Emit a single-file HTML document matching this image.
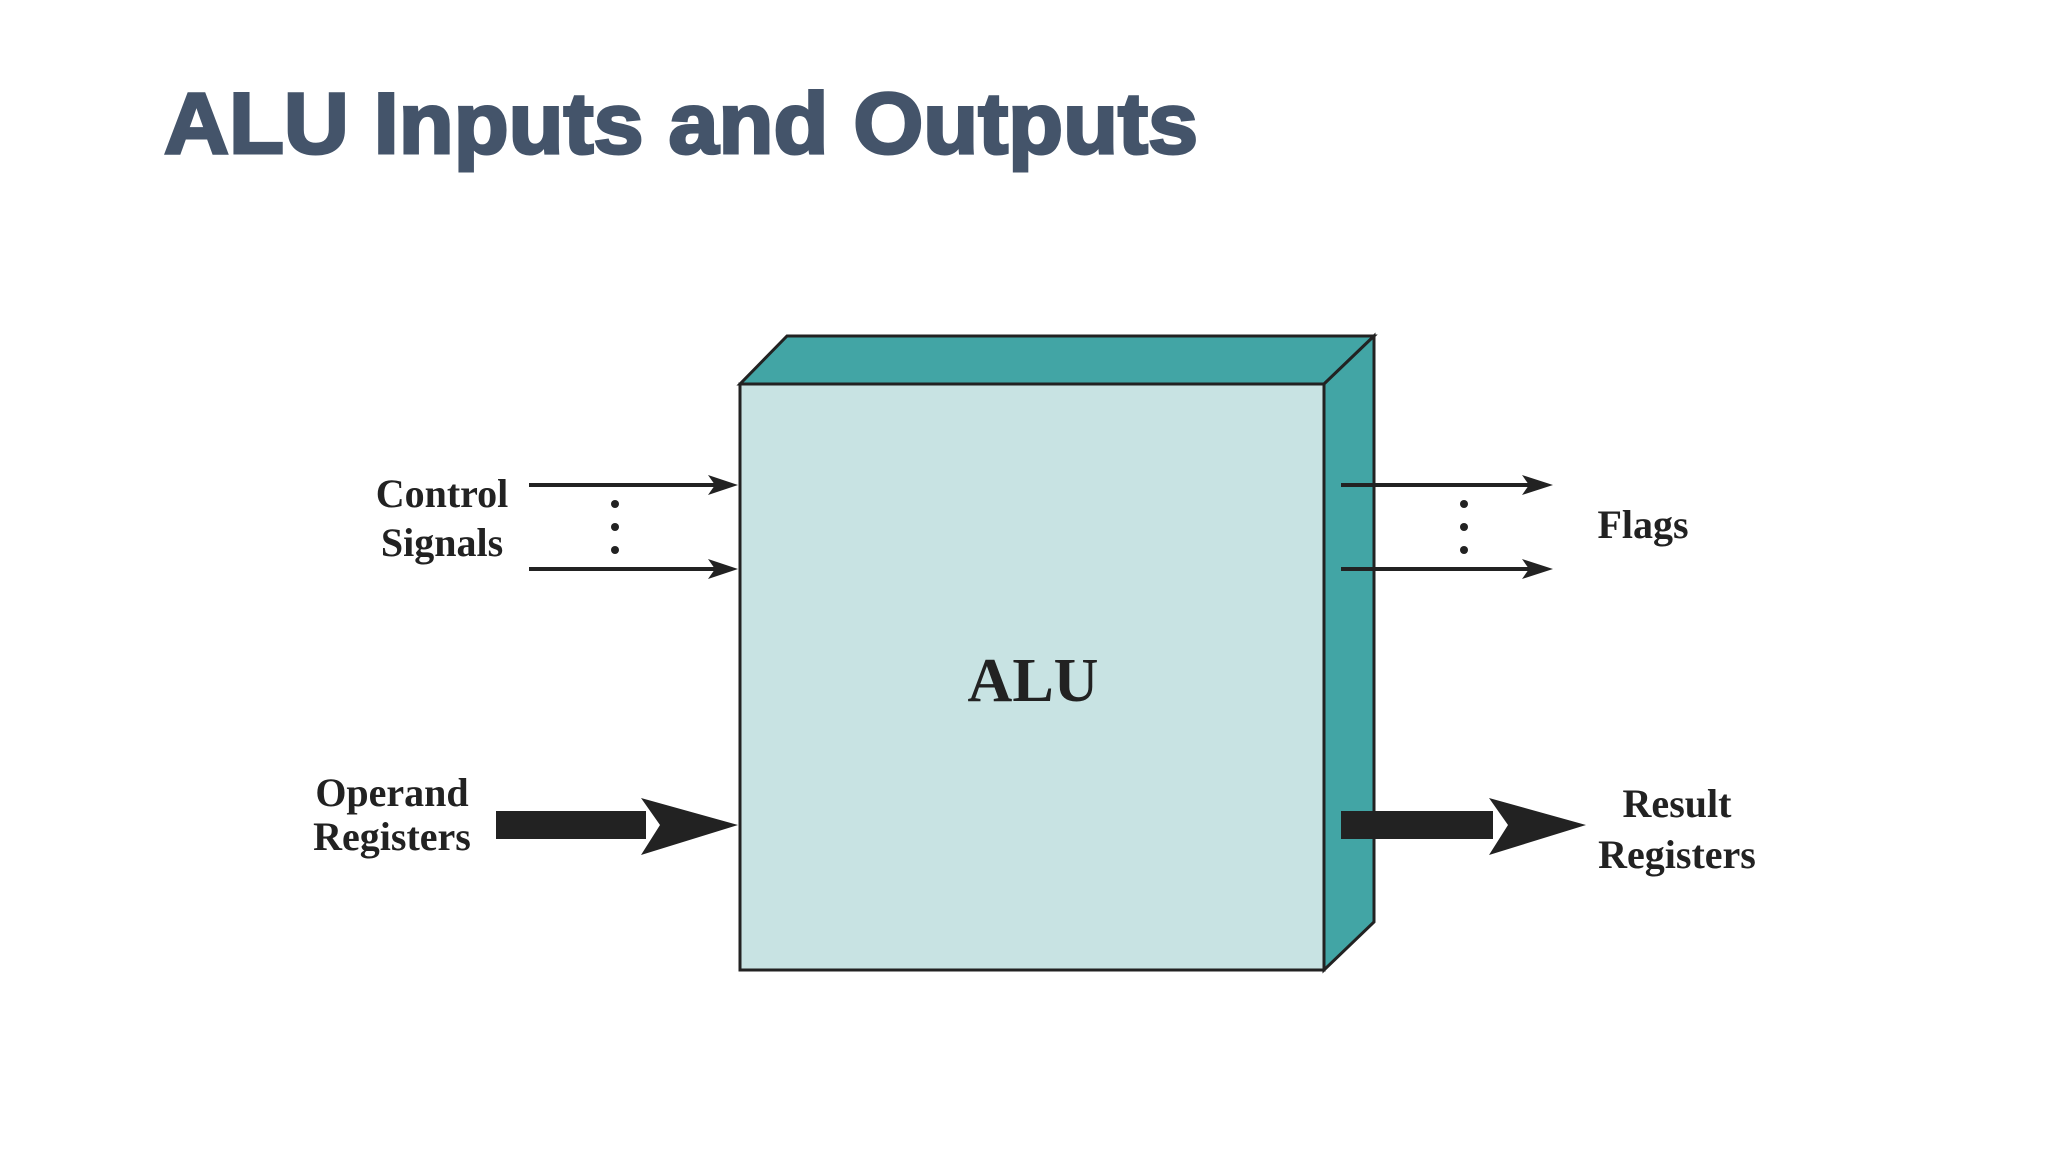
<!DOCTYPE html>
<html><head><meta charset="utf-8"><style>
html,body{margin:0;padding:0;background:#fff;width:2048px;height:1152px;overflow:hidden}
</style></head><body>
<svg width="2048" height="1152" viewBox="0 0 2048 1152" xmlns="http://www.w3.org/2000/svg">
<rect width="2048" height="1152" fill="#fff"/>
<text x="164" y="153" font-family="Liberation Sans, sans-serif" font-weight="bold" font-size="86" fill="#44546a" stroke="#44546a" stroke-width="3" textLength="1034" lengthAdjust="spacingAndGlyphs">ALU Inputs and Outputs</text>
<!-- 3D box -->
<polygon points="740,384 787,336 1374,336 1324,384" fill="#42a5a5" stroke="#222" stroke-width="3"/>
<polygon points="1324,384 1374,336 1374,922 1324,970" fill="#42a5a5" stroke="#222" stroke-width="3"/>
<rect x="740" y="384" width="584" height="586" fill="#c8e3e3" stroke="#222" stroke-width="3"/>
<text x="1033" y="701" text-anchor="middle" font-family="Liberation Serif, serif" font-weight="bold" font-size="62" fill="#222">ALU</text>
<!-- control arrows -->
<g stroke="#222" stroke-width="4">
<line x1="529" y1="485" x2="720" y2="485"/>
<line x1="529" y1="569" x2="720" y2="569"/>
<line x1="1341" y1="485" x2="1535" y2="485"/>
<line x1="1341" y1="569" x2="1535" y2="569"/>
</g>
<g fill="#222">
<polygon points="708,475 738,485 708,495 715,485"/>
<polygon points="708,559 738,569 708,579 715,569"/>
<polygon points="1522,475 1553,485 1522,495 1529,485"/>
<polygon points="1522,559 1553,569 1522,579 1529,569"/>
<circle cx="615" cy="504" r="4"/><circle cx="615" cy="527" r="4"/><circle cx="615" cy="550" r="4"/>
<circle cx="1464" cy="504" r="4"/><circle cx="1464" cy="527" r="4"/><circle cx="1464" cy="550" r="4"/>
<!-- operand arrow -->
<rect x="496" y="811" width="150" height="28"/>
<polygon points="641,798 738,825 641,855 660,825"/>
<!-- result arrow -->
<rect x="1341" y="811" width="152" height="28"/>
<polygon points="1489,798 1586,825 1489,855 1508,825"/>
</g>
<g font-family="Liberation Serif, serif" font-weight="bold" font-size="40" fill="#222" text-anchor="middle">
<text x="442" y="507">Control</text>
<text x="442" y="556">Signals</text>
<text x="392" y="806">Operand</text>
<text x="392" y="850">Registers</text>
<text x="1643" y="538">Flags</text>
<text x="1677" y="817">Result</text>
<text x="1677" y="868">Registers</text>
</g>
</svg>
</body></html>
